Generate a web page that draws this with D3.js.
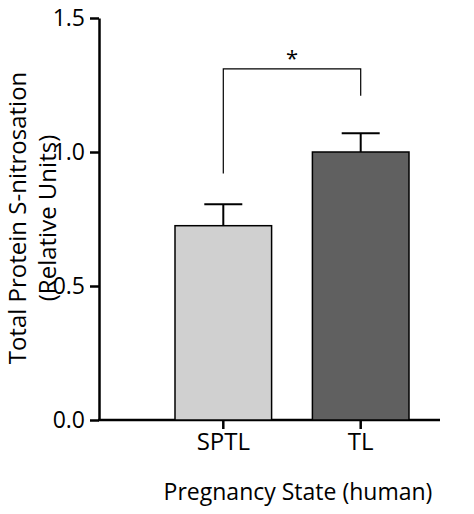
<!DOCTYPE html>
<html><head><meta charset="utf-8">
<script src="https://cdn.jsdelivr.net/npm/d3@7"></script>
<style>body{margin:0;background:#fff}text{font-family:"Open Sans",sans-serif;fill:#000}</style>
</head><body><svg width="474" height="514"></svg>
<script>
var categories = ["SPTL", "TL"];
var means = [0.725, 1.0];
var sems = [0.08, 0.07];
var fills = ["#d0d0d0", "#606060"];
var yTicks = [0.0, 0.5, 1.0, 1.5];

var svg = d3.select("svg");
var y = d3.scaleLinear().domain([0, 1.5]).range([420, 18]);
var x = d3.scaleBand().domain(categories).range([175, 409]).paddingInner(0.297).paddingOuter(0);

// axes
var yAxis = d3.axisLeft(y).tickValues(yTicks).tickFormat(d3.format(".1f")).tickSize(9).tickSizeOuter(0);
var gy = svg.append("g").attr("transform", "translate(99,0)").call(yAxis);
gy.select(".domain").attr("stroke-width", 2.5);
gy.selectAll(".tick line").attr("stroke-width", 2.5);
gy.selectAll("text").style("font-size", "23px").attr("dx", "-2");

var xAxis = d3.axisBottom(x).tickSize(9).tickSizeOuter(0);
var gx = svg.append("g").attr("transform", "translate(0,420)").call(xAxis);
gx.select(".domain").attr("d", "M98,0H440").attr("stroke-width", 2.5);
gx.selectAll(".tick line").attr("stroke-width", 2.5);
gx.selectAll("text").style("font-size", "24px").attr("dy", "0.75em");

// error bars
categories.forEach(function(c, i) {
  var cx = x(c) + x.bandwidth() / 2;
  svg.append("line").attr("x1", cx).attr("x2", cx).attr("y1", y(means[i])).attr("y2", y(means[i] + sems[i]))
    .attr("stroke", "#000").attr("stroke-width", 2);
  svg.append("line").attr("x1", cx - 19).attr("x2", cx + 19).attr("y1", y(means[i] + sems[i])).attr("y2", y(means[i] + sems[i]))
    .attr("stroke", "#000").attr("stroke-width", 2);
});

// bars
svg.selectAll("rect.bar").data(categories).enter().append("rect")
  .attr("x", function(d) { return x(d); })
  .attr("width", x.bandwidth())
  .attr("y", function(d, i) { return y(means[i]); })
  .attr("height", function(d, i) { return 420 - y(means[i]); })
  .attr("fill", function(d, i) { return fills[i]; })
  .attr("stroke", "#000").attr("stroke-width", 1.5);

// significance bracket
var x1 = x("SPTL") + x.bandwidth() / 2, x2 = x("TL") + x.bandwidth() / 2;
svg.append("path").attr("d", "M" + x1 + "," + y(0.92) + "V" + y(1.31) + "H" + x2 + "V" + y(1.21))
  .attr("fill", "none").attr("stroke", "#000").attr("stroke-width", 1.2);
svg.append("text").attr("x", (x1 + x2) / 2).attr("y", 66).attr("text-anchor", "middle")
  .style("font-size", "22px").text("*");

// titles
svg.append("text").attr("x", 298).attr("y", 500).attr("text-anchor", "middle").style("font-size", "23px")
  .text("Pregnancy State (human)");
var yt = svg.append("text").attr("transform", "translate(0,218) rotate(-90)").attr("text-anchor", "middle").style("font-size", "24px");
yt.append("tspan").attr("x", 0).attr("y", 26).text("Total Protein S-nitrosation");
yt.append("tspan").attr("x", 0).attr("y", 56).text("(Relative Units)");
</script></body></html>
